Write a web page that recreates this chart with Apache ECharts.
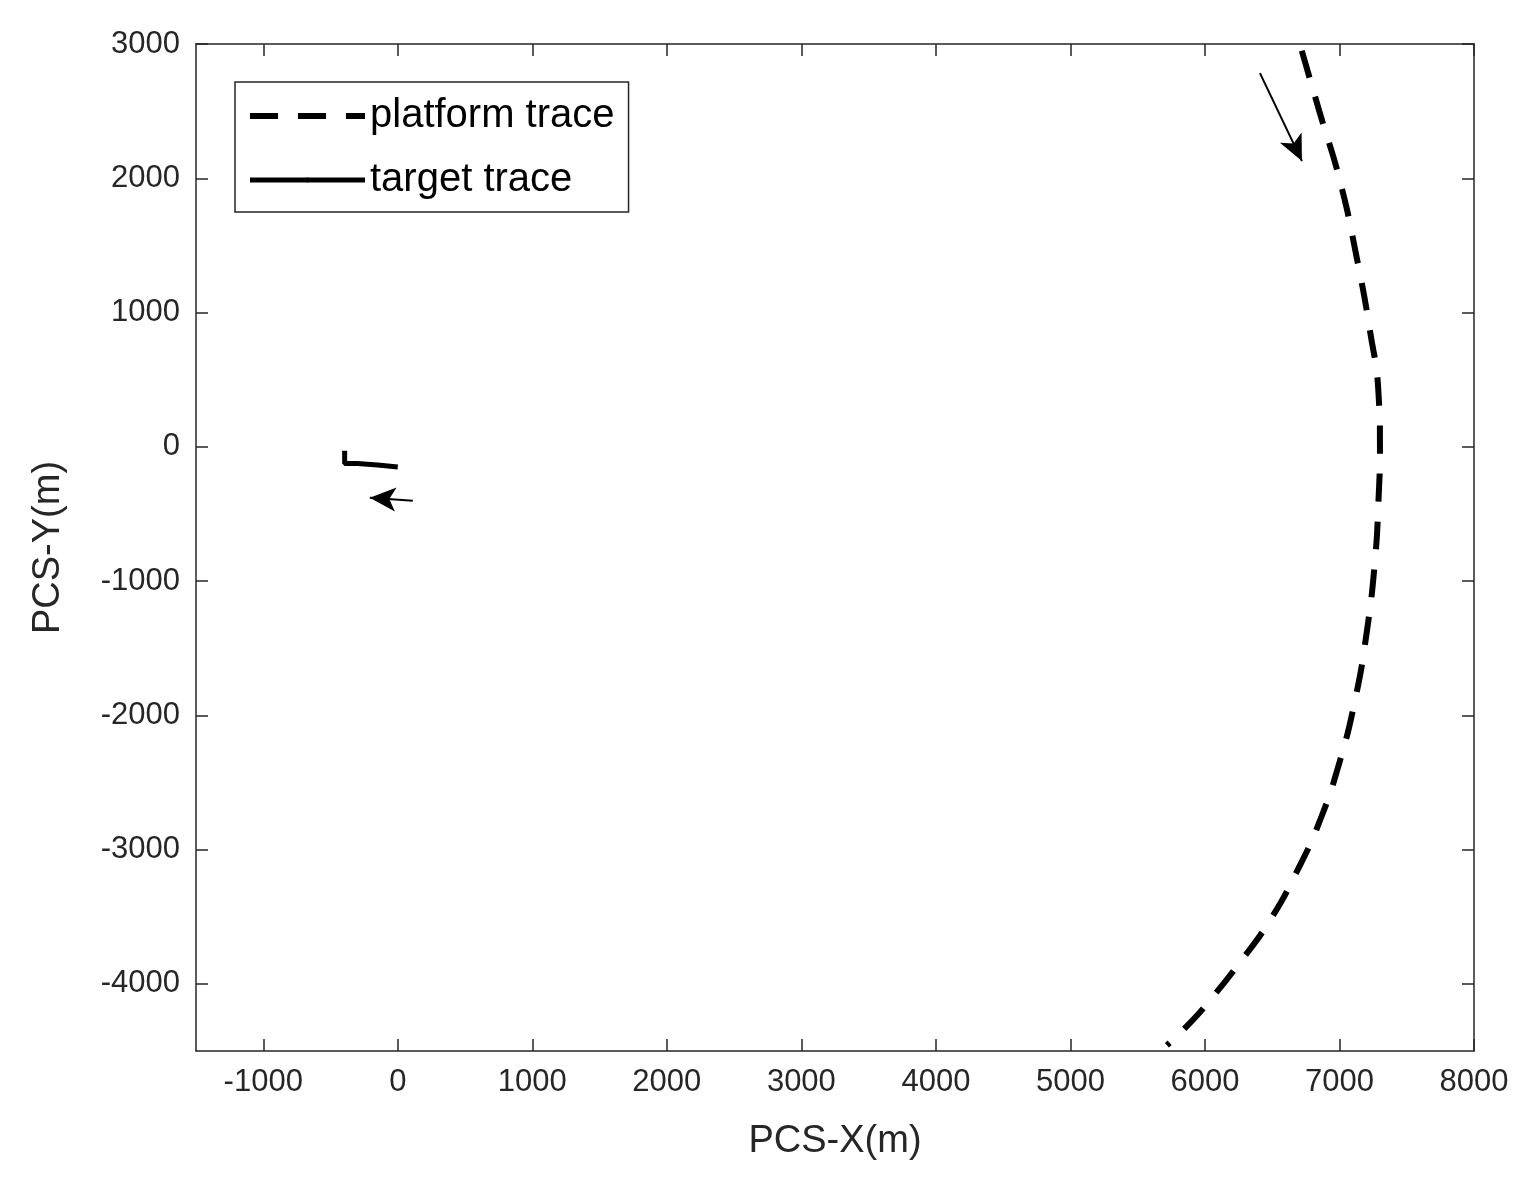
<!DOCTYPE html>
<html><head><meta charset="utf-8">
<script src="https://cdn.jsdelivr.net/npm/echarts@6/dist/echarts.min.js"></script>
<style>html,body{margin:0;background:#fff}#c{width:1536px;height:1203px}</style>
</head><body><div id="c"></div>
<script>
var xTicks = [-1000, 0, 1000, 2000, 3000, 4000, 5000, 6000, 7000, 8000];
var yTicks = [-4000, -3000, -2000, -1000, 0, 1000, 2000, 3000];
var platformX = [6720, 6850, 7004, 7130, 7227, 7290, 7301, 7290, 7264, 7200, 7115, 7000, 6855, 6680, 6483, 6260, 6037, 5880, 5717];
var platformY = [2950, 2500, 1979, 1400, 863, 400, 0, -400, -848, -1400, -1890, -2350, -2783, -3170, -3527, -3840, -4122, -4300, -4457];
var targetX = [0, -150, -300, -395, -395, -395];
var targetY = [-150, -135, -125, -125, -80, -30];
var arrows = [[[6409, 2783], [6721, 2128]], [[112, -402], [-208, -379]]];

function pairs(xs, ys) { return xs.map(function (x, i) { return [x, ys[i]]; }); }
var font = 'Liberation Sans, Arial, sans-serif';
var chart = echarts.init(document.getElementById('c'));
var axLine = {show: true, onZero: false, lineStyle: {color: '#262626', width: 1.5}};
function tick(vals) { return {show: true, inside: true, length: 12, customValues: vals, lineStyle: {color: '#262626', width: 1.5}}; }
function label(vals, show) {
    return {show: show, customValues: vals, fontFamily: font, fontSize: 31, color: '#262626', margin: 16,
            formatter: function (v) { return String(v); }};
}
chart.setOption({
    animation: false,
    grid: {left: 196, right: 62, top: 44, bottom: 152},
    legend: {
        left: 235, top: 82, orient: 'vertical', itemWidth: 115, itemHeight: 6, itemGap: 24,
        padding: [14, 14, 12, 12], borderColor: '#262626', borderWidth: 1.5,
        textStyle: {fontFamily: font, fontSize: 40, color: '#000'},
        data: [
            {name: 'platform trace', lineStyle: {width: 6, type: [28, 20]}},
            {name: 'target trace', lineStyle: {width: 5}}
        ]
    },
    xAxis: [
        {type: 'value', min: -1500, max: 8000, axisLine: axLine, axisTick: tick(xTicks), splitLine: {show: false},
         axisLabel: label(xTicks, true),
         name: 'PCS-X(m)', nameLocation: 'middle', nameGap: 72, nameTextStyle: {fontFamily: font, fontSize: 38, color: '#262626'}},
        {type: 'value', position: 'top', min: -1500, max: 8000, axisLine: axLine, axisTick: tick(xTicks), axisLabel: label(xTicks, false), splitLine: {show: false}}
    ],
    yAxis: [
        {type: 'value', min: -4500, max: 3000, axisLine: axLine, axisTick: tick(yTicks), splitLine: {show: false},
         axisLabel: label(yTicks, true),
         name: 'PCS-Y(m)', nameLocation: 'middle', nameGap: 128, nameTextStyle: {fontFamily: font, fontSize: 38, color: '#262626'}},
        {type: 'value', position: 'right', min: -4500, max: 3000, axisLine: axLine, axisTick: tick(yTicks), axisLabel: label(yTicks, false), splitLine: {show: false}}
    ],
    series: [
        {name: 'platform trace', type: 'line', smooth: true, symbol: 'none', data: pairs(platformX, platformY),
         lineStyle: {color: '#000', width: 6, type: [28, 20]}, itemStyle: {color: '#000'}},
        {name: 'target trace', type: 'line', symbol: 'none', data: pairs(targetX, targetY),
         lineStyle: {color: '#000', width: 5}, itemStyle: {color: '#000'},
         markLine: {silent: true, symbol: ['none', 'arrow'], symbolSize: [18, 26], label: {show: false},
             lineStyle: {color: '#000', width: 2, type: 'solid'},
             data: arrows.map(function (a) { return [{coord: a[0]}, {coord: a[1]}]; })}}
    ]
});
</script></body></html>
